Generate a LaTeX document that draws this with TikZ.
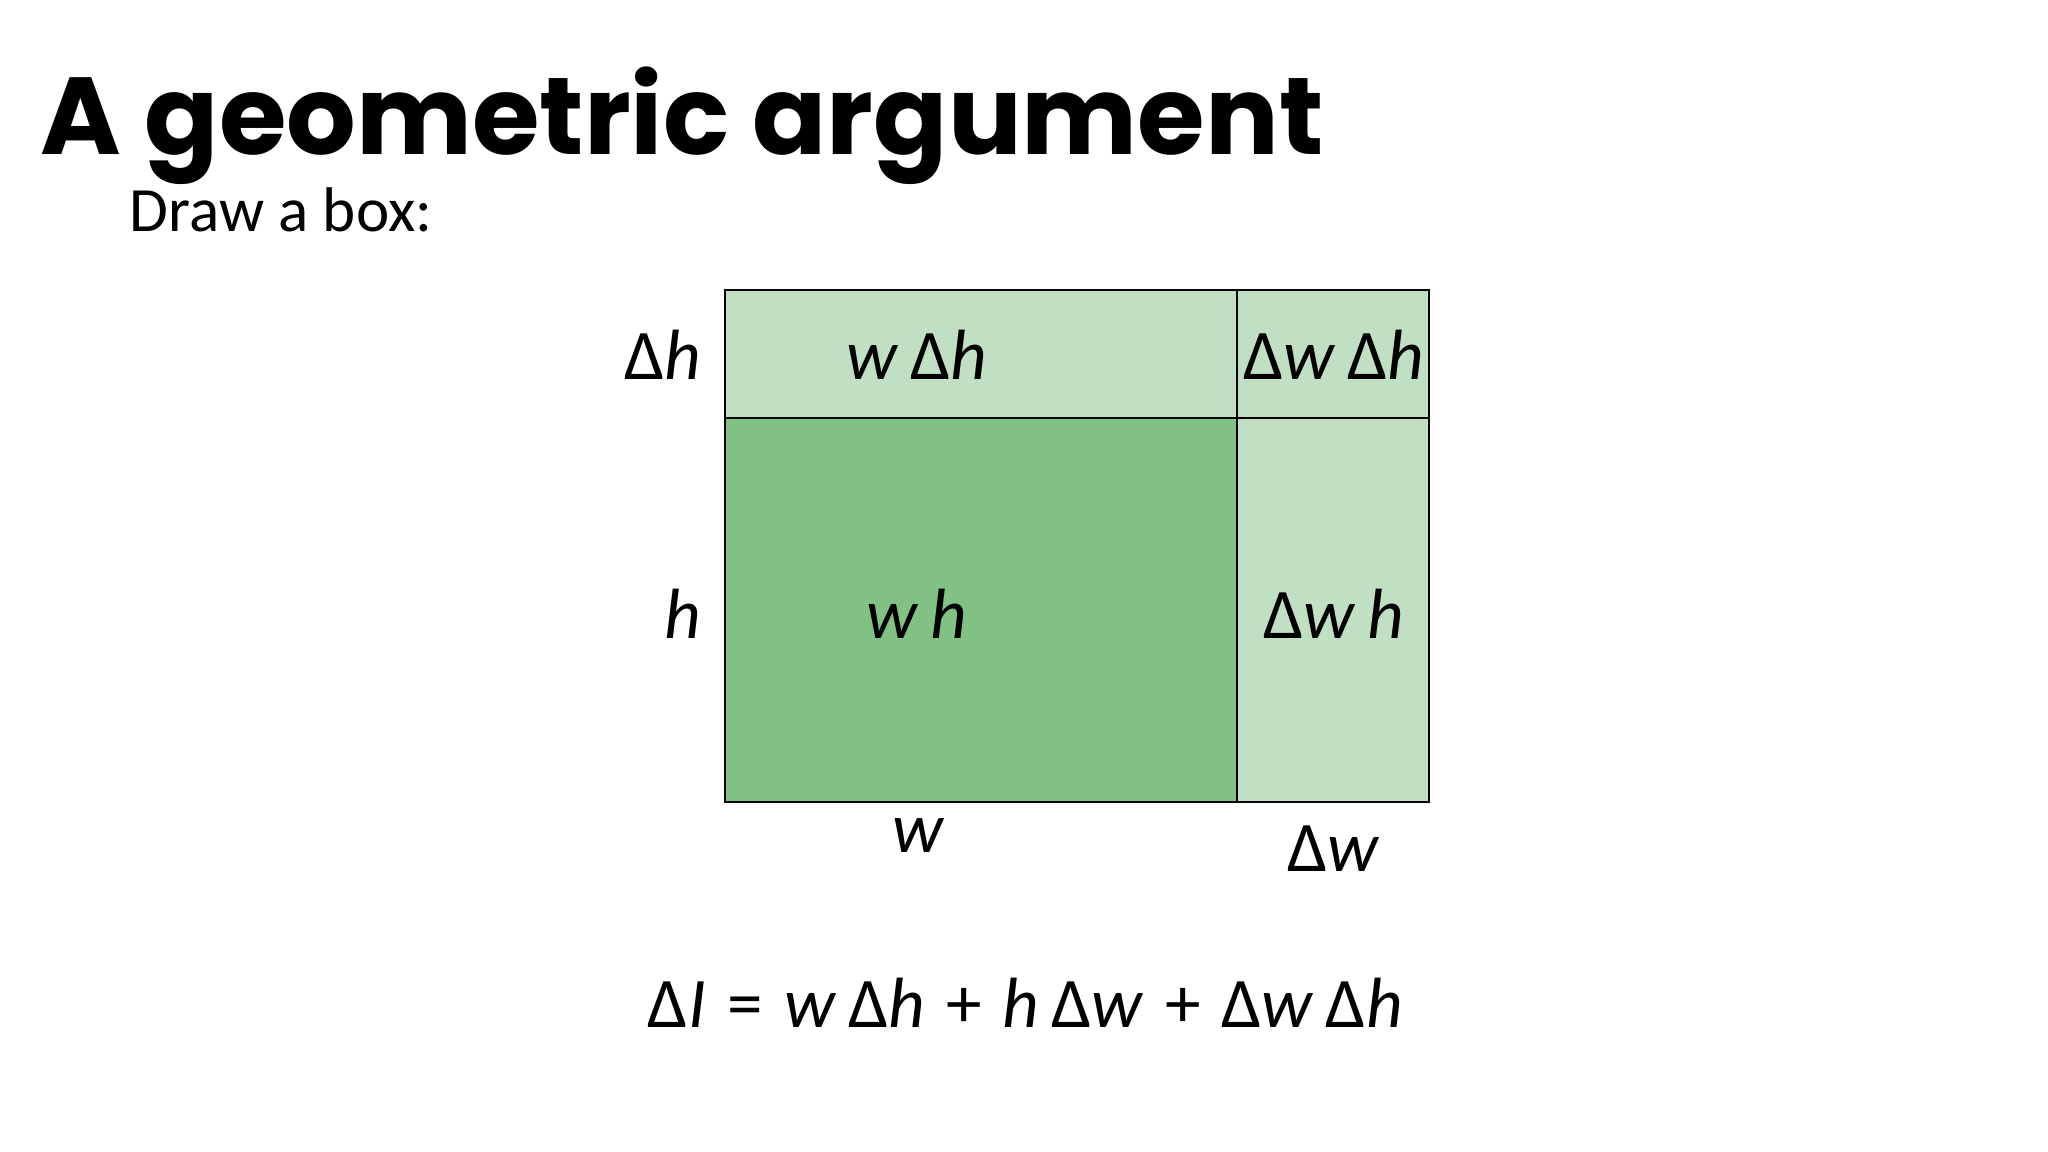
\documentclass[tikz,border=0pt]{standalone}
\usepackage{fontspec}
\setmainfont{Carlito}
\newfontfamily\titlefont{Poppins}[BoldFont={* Bold}]
\definecolor{darkg}{HTML}{81C184}
\definecolor{lightg}{HTML}{C1DFC2}
\newcommand{\mi}[1]{\textit{#1}}
\newcommand{\op}[1]{\hspace{0.3em}#1\hspace{0.3em}}
\tikzset{
  lbl/.style={inner sep=0pt,font=\fontsize{31}{36}\selectfont},
  cell/.style={draw=black,line width=1pt}
}
\begin{document}
\begin{tikzpicture}[x=0.02cm,y=-0.02cm]
\useasboundingbox (0,0) rectangle (1568,882);
\fill[white] (0,0) rectangle (1568,882);
\node[anchor=base west,inner sep=0pt,font=\titlefont\bfseries\fontsize{47.7}{54}\selectfont] (title) at (31,118) {A geometric argument};
\node[anchor=base west,inner sep=0pt,font=\fontsize{27.5}{32}\selectfont] (sub) at (99,177) {Draw a box:};
\fill[lightg] (555,222) rectangle (1094,614);
\fill[darkg] (555,320) rectangle (947,614);
\draw[cell] (555,222) rectangle (1094,614);
\draw[cell] (947,222) -- (947,614);
\draw[cell] (555,320) -- (1094,320);
\node[lbl,anchor=east] (dh) at (537,272) {Δ\mi{h}};
\node[lbl,anchor=east] (h) at (537,470) {\mi{h}};
\node[lbl] (w) at (703,640) {\mi{w}};
\node[lbl] (dw) at (1021,650) {Δ\mi{w}};
\node[lbl] (wdh) at (702,272) {\mi{w}\,Δ\mi{h}};
\node[lbl] (dwdh) at (1021,272) {Δ\mi{w}\,Δ\mi{h}};
\node[lbl] (wh) at (702,470) {\mi{w}\,\mi{h}};
\node[lbl] (dwh) at (1021,470) {Δ\mi{w}\,\mi{h}};
\node[lbl] (eq) at (785,768) {Δ\mi{I}\op{=}\mi{w}\,Δ\mi{h}\op{+}\mi{h}\,Δ\mi{w}\op{+}Δ\mi{w}\,Δ\mi{h}};
\end{tikzpicture}
\end{document}
